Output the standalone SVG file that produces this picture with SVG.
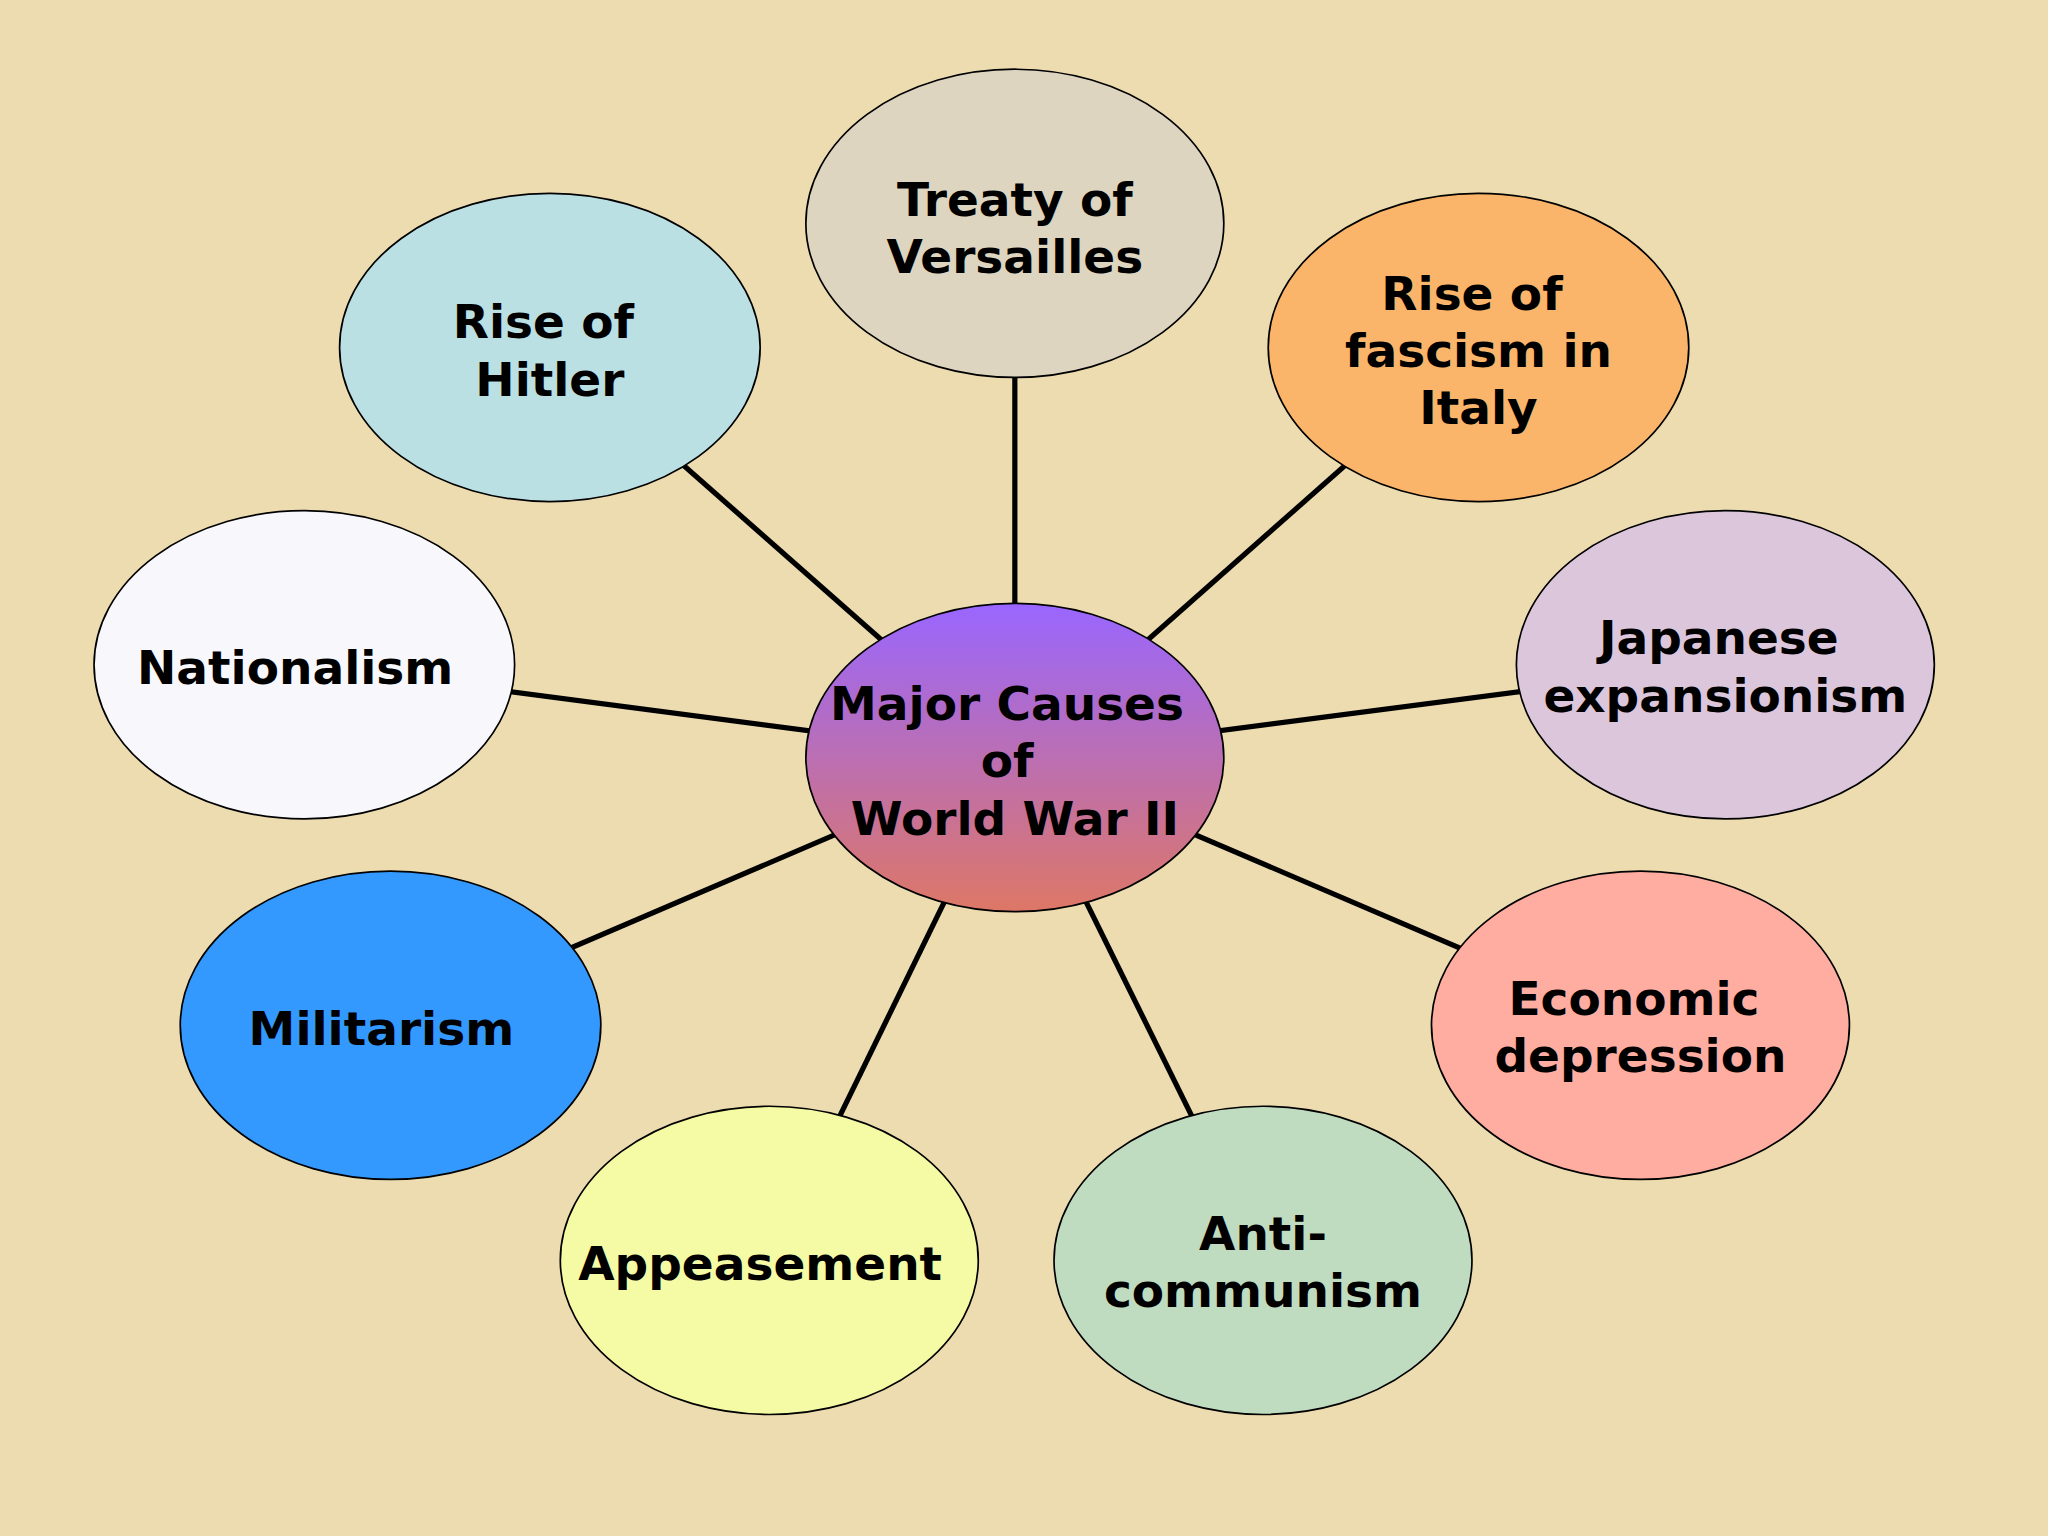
<svg xmlns="http://www.w3.org/2000/svg" width="2048" height="1536" viewBox="0 0 2048 1536">
<defs>
<linearGradient id="cg" x1="0" y1="0" x2="0" y2="1"><stop offset="0" stop-color="#9966FF"/><stop offset="1" stop-color="#DD7766"/></linearGradient>
<style>
.n{stroke:#000;stroke-width:1.3}
.t{font-family:"DejaVu Sans",Verdana,sans-serif;font-weight:bold;font-size:36px;text-anchor:middle;fill:#000}
.c{stroke:#000;stroke-width:4}
</style>
</defs>
<rect width="2048" height="1536" fill="#ECDCB0"/>
<g transform="scale(1.3061)">
<g id="connectors">
<line class="c" x1="777" y1="580" x2="777" y2="171"/>
<line class="c" x1="777" y1="580" x2="421" y2="266"/>
<line class="c" x1="777" y1="580" x2="1132" y2="266"/>
<line class="c" x1="777" y1="580" x2="233" y2="509"/>
<line class="c" x1="777" y1="580" x2="1321" y2="509"/>
<line class="c" x1="777" y1="580" x2="299" y2="785"/>
<line class="c" x1="777" y1="580" x2="1256" y2="785"/>
<line class="c" x1="777" y1="580" x2="589" y2="965"/>
<line class="c" x1="777" y1="580" x2="967" y2="965"/>
</g>
<g id="treaty"><ellipse class="n" cx="777" cy="171" rx="160" ry="118" fill="#DDD5C0"/><text class="t" x="777" y="165">Treaty of</text><text class="t" x="777" y="209">Versailles</text></g>
<g id="hitler"><ellipse class="n" cx="421" cy="266" rx="161" ry="118" fill="#BBE0E3"/><text class="t" x="416" y="259">Rise of</text><text class="t" x="421" y="303">Hitler</text></g>
<g id="fascism"><ellipse class="n" cx="1132" cy="266" rx="161" ry="118" fill="#FAB56A"/><text class="t" x="1127" y="237">Rise of</text><text class="t" x="1132" y="281">fascism in</text><text class="t" x="1132" y="325">Italy</text></g>
<g id="nationalism"><ellipse class="n" cx="233" cy="509" rx="161" ry="118" fill="#F8F8FC"/><text class="t" x="226" y="524">Nationalism</text></g>
<g id="japanese"><ellipse class="n" cx="1321" cy="509" rx="160" ry="118" fill="#DCC6DC"/><text class="t" x="1316" y="501">Japanese</text><text class="t" x="1321" y="545">expansionism</text></g>
<g id="militarism"><ellipse class="n" cx="299" cy="785" rx="161" ry="118" fill="#3399FF"/><text class="t" x="292" y="800">Militarism</text></g>
<g id="economic"><ellipse class="n" cx="1256" cy="785" rx="160" ry="118" fill="#FFADA0"/><text class="t" x="1251" y="777">Economic</text><text class="t" x="1256" y="821">depression</text></g>
<g id="appeasement"><ellipse class="n" cx="589" cy="965" rx="160" ry="118" fill="#F5FAA5"/><text class="t" x="582" y="980">Appeasement</text></g>
<g id="anticommunism"><ellipse class="n" cx="967" cy="965" rx="160" ry="118" fill="#C0DCC0"/><text class="t" x="967" y="957">Anti-</text><text class="t" x="967" y="1001">communism</text></g>
<g id="center"><ellipse class="n" cx="777" cy="580" rx="160" ry="118" fill="url(#cg)"/><text class="t" x="771" y="551">Major Causes</text><text class="t" x="771" y="595">of</text><text class="t" x="777" y="639">World War II</text></g>
</g>
</svg>
